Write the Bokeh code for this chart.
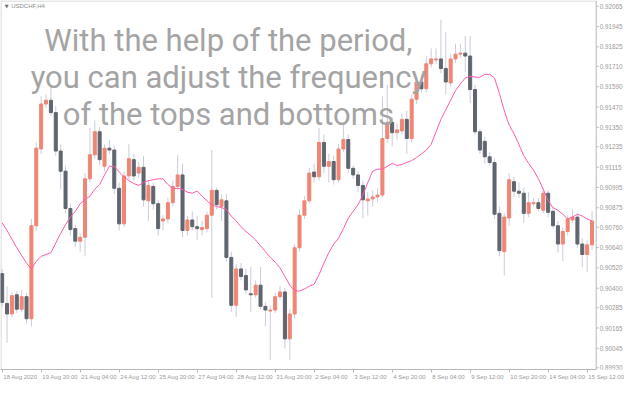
import numpy as np
from bokeh.plotting import figure
from bokeh.models import Range1d, FixedTicker, Label, LinearAxis
from bokeh.core.properties import value
from bokeh.embed import file_html
from bokeh.resources import INLINE

symbol = "USDCHF,H4"
caption = ["With the help of the period,",
           "you can adjust the frequency",
           "of the tops and bottoms"]

opens = [0.90486,0.90310,0.90248,0.90361,0.90276,0.90350,0.90220,0.90769,0.91222,0.91488,
         0.91510,0.91437,0.91210,0.91091,0.90871,0.90752,0.90678,0.90701,0.91046,0.91188,
         0.91324,0.91120,0.91227,0.91216,0.90990,0.90780,0.91063,0.91159,0.91080,0.91114,
         0.90916,0.91001,0.90899,0.90797,0.90809,0.90905,0.91001,0.91069,0.90741,0.90803,
         0.90763,0.90746,0.90752,0.90831,0.90978,0.90882,0.90916,0.90582,0.90299,0.90514,
         0.90475,0.90367,0.90361,0.90418,0.90293,0.90265,0.90271,0.90350,0.90378,0.90101,
         0.90248,0.90639,0.90831,0.90916,0.91086,0.91058,0.91261,0.91120,0.91148,0.91041,
         0.91222,0.91278,0.91108,0.91069,0.91007,0.90916,0.90927,0.90939,0.90950,0.91284,
         0.91380,0.91318,0.91329,0.91397,0.91284,0.91516,0.91618,0.91578,0.91725,0.91748,
         0.91754,0.91697,0.91612,0.91754,0.91782,0.91788,0.91771,0.91573,0.91324,0.91267,
         0.91176,0.91142,0.90842,0.90616,0.90814,0.91029,0.90973,0.90961,0.90842,0.90899,
         0.90905,0.90860,0.90961,0.90854,0.90769,0.90661,0.90735,0.90803,0.90820,0.90661,
         0.90599,0.90656]

highs = [0.90514,0.90412,0.90373,0.90384,0.90390,0.90373,0.90809,0.91261,0.91533,0.91544,
         0.91601,0.91476,0.91250,0.91125,0.90899,0.90775,0.90724,0.91080,0.91346,0.91391,
         0.91352,0.91250,0.91273,0.91239,0.91024,0.91091,0.91250,0.91193,0.91148,0.91182,
         0.91035,0.91024,0.90922,0.90831,0.90933,0.91035,0.91188,0.91137,0.90826,0.90854,
         0.90826,0.90797,0.90854,0.91216,0.90995,0.90956,0.90956,0.90616,0.90542,0.90548,
         0.90514,0.90525,0.90446,0.90525,0.90316,0.90299,0.90373,0.90412,0.90401,0.90276,
         0.90661,0.90865,0.90944,0.91108,0.91137,0.91346,0.91307,0.91193,0.91182,0.91250,
         0.91374,0.91307,0.91125,0.91091,0.91035,0.90967,0.90978,0.90990,0.91533,0.91601,
         0.91408,0.91374,0.91431,0.91448,0.91544,0.91646,0.91658,0.91771,0.91816,0.91816,
         0.91986,0.91912,0.91782,0.91844,0.91844,0.91890,0.91890,0.91601,0.91341,0.91295,
         0.91205,0.91165,0.90882,0.90842,0.91080,0.91058,0.91024,0.90995,0.90967,0.90933,
         0.90933,0.90990,0.90978,0.90882,0.90797,0.90758,0.90831,0.90865,0.90842,0.90695,
         0.90684,0.90854]

lows = [0.90288,0.90078,0.90226,0.90254,0.90260,0.90192,0.90175,0.90741,0.91193,0.91465,
        0.91420,0.91182,0.90984,0.90842,0.90712,0.90644,0.90616,0.90588,0.91024,0.91165,
        0.91125,0.91091,0.91193,0.90956,0.90741,0.90763,0.91041,0.91035,0.91052,0.90882,
        0.90797,0.90865,0.90712,0.90741,0.90786,0.90882,0.90978,0.90701,0.90712,0.90741,
        0.90684,0.90712,0.90729,0.90344,0.90865,0.90797,0.90559,0.90260,0.90231,0.90446,
        0.90367,0.90260,0.90344,0.90276,0.90175,0.89976,0.90254,0.90333,0.90044,0.89976,
        0.90220,0.90616,0.90809,0.90899,0.91024,0.91035,0.91080,0.91024,0.91012,0.91024,
        0.91205,0.91080,0.91046,0.90967,0.90814,0.90831,0.90882,0.90910,0.90933,0.91261,
        0.91239,0.91278,0.91307,0.91193,0.91261,0.91488,0.91556,0.91556,0.91703,0.91725,
        0.91669,0.91544,0.91590,0.91731,0.91759,0.91675,0.91493,0.91307,0.91193,0.91137,
        0.91125,0.90809,0.90588,0.90475,0.90769,0.90939,0.90933,0.90786,0.90820,0.90882,
        0.90854,0.90842,0.90820,0.90752,0.90610,0.90559,0.90712,0.90786,0.90639,0.90525,
        0.90497,0.90627]

closes = [0.90316,0.90248,0.90356,0.90276,0.90350,0.90220,0.90769,0.91227,0.91488,0.91510,
          0.91437,0.91210,0.91091,0.90871,0.90746,0.90678,0.90701,0.91046,0.91188,0.91324,
          0.91159,0.91227,0.91216,0.90990,0.90780,0.91063,0.91165,0.91063,0.91114,0.90922,
          0.91007,0.90899,0.90752,0.90809,0.90905,0.91001,0.91069,0.90741,0.90803,0.90763,
          0.90752,0.90758,0.90831,0.90978,0.90893,0.90922,0.90582,0.90299,0.90514,0.90469,
          0.90390,0.90361,0.90418,0.90293,0.90271,0.90271,0.90350,0.90378,0.90101,0.90248,
          0.90639,0.90831,0.90916,0.91080,0.91058,0.91261,0.91120,0.91148,0.91041,0.91222,
          0.91278,0.91108,0.91069,0.91007,0.90922,0.90927,0.90939,0.90950,0.91284,0.91380,
          0.91318,0.91335,0.91397,0.91284,0.91516,0.91618,0.91578,0.91725,0.91754,0.91754,
          0.91697,0.91618,0.91754,0.91782,0.91788,0.91771,0.91573,0.91324,0.91216,0.91176,
          0.91142,0.90837,0.90622,0.90820,0.91041,0.90973,0.90961,0.90842,0.90905,0.90905,
          0.90871,0.90961,0.90848,0.90769,0.90661,0.90735,0.90809,0.90820,0.90661,0.90599,
          0.90656,0.90797]

ma = [0.90786,0.90741,0.90690,0.90639,0.90593,0.90548,0.90514,0.90559,0.90588,0.90599,
      0.90610,0.90667,0.90724,0.90775,0.90820,0.90854,0.90899,0.90922,0.90944,0.90984,
      0.91012,0.91069,0.91120,0.91120,0.91086,0.91058,0.91035,0.91018,0.91007,0.91024,
      0.91035,0.91041,0.91046,0.91046,0.91012,0.90990,0.90990,0.90984,0.90967,0.90961,
      0.90973,0.90944,0.90916,0.90893,0.90882,0.90876,0.90865,0.90826,0.90797,0.90763,
      0.90735,0.90712,0.90684,0.90650,0.90616,0.90582,0.90554,0.90520,0.90469,0.90418,
      0.90384,0.90384,0.90395,0.90412,0.90424,0.90480,0.90548,0.90610,0.90661,0.90695,
      0.90752,0.90814,0.90854,0.90893,0.90950,0.91024,0.91091,0.91103,0.91103,0.91120,
      0.91137,0.91125,0.91131,0.91142,0.91154,0.91171,0.91193,0.91216,0.91250,0.91324,
      0.91397,0.91454,0.91510,0.91567,0.91607,0.91641,0.91652,0.91646,0.91646,0.91663,
      0.91663,0.91641,0.91550,0.91448,0.91363,0.91312,0.91250,0.91182,0.91137,0.91097,
      0.91046,0.90984,0.90916,0.90876,0.90860,0.90837,0.90809,0.90820,0.90837,0.90826,
      0.90809,0.90797]

time_labels = ["18 Aug 2020", "19 Aug 20:00", "21 Aug 04:00", "24 Aug 12:00",
               "25 Aug 20:00", "27 Aug 04:00", "28 Aug 12:00", "31 Aug 20:00",
               "2 Sep 04:00", "3 Sep 12:00", "4 Sep 20:00", "8 Sep 04:00",
               "9 Sep 12:00", "10 Sep 20:00", "14 Sep 04:00", "15 Sep 12:00"]
time_label_bars = [0, 8, 16, 24, 32, 40, 48, 56, 64, 72, 80, 88, 96, 104, 112, 120]

price_ticks = [0.92065, 0.91945, 0.91825, 0.91710, 0.91590, 0.91470, 0.91350,
               0.91235, 0.91115, 0.90995, 0.90875, 0.90760, 0.90640, 0.90520,
               0.90400, 0.90285, 0.90165, 0.90045, 0.89930]

BULL = "#EF8675"
BEAR = "#5F666F"
WICK = "#CACCDA"
MA_COL = "#FF5AAE"
AXIS = "#B8B8B8"
BORDER = "#D0D0D0"
LABEL = "#9A9A9A"

W, H = 624, 384
BOTTOM = 15
FRAME_H = H - BOTTOM
BAR_PX = 4.875                 # pixels per bar
y0, y1 = 0.89920, 0.92099
x0 = -0.34
x1 = x0 + W / BAR_PX           # frame spans the whole width
AXIS_X = x0 + 595.7 / BAR_PX   # price scale line
px_x = 1.0 / BAR_PX
px_y = (y1 - y0) / FRAME_H

p = figure(width=W, height=H, output_backend="svg", toolbar_location=None,
           x_range=Range1d(x0, x1), y_range=Range1d(y0, y1),
           y_axis_location=None, x_axis_location="below")
p.min_border_left = 0
p.min_border_right = 0
p.min_border_top = 0
p.min_border_bottom = BOTTOM
p.outline_line_color = None
p.xgrid.visible = False
p.ygrid.visible = False
p.background_fill_color = "white"
p.border_fill_color = "white"

# chart window border (left and top)
p.segment([x0 + 0.5 * px_x, x0], [y0, y1 - 0.5 * px_y],
          [x0 + 0.5 * px_x, AXIS_X], [y1, y1 - 0.5 * px_y],
          line_color=BORDER, line_width=1)

idx = np.arange(len(opens))
o = np.array(opens)
c = np.array(closes)
bull = c >= o
bear = ~bull

p.segment(idx, highs, idx, lows, line_color=WICK, line_width=1)
p.vbar(x=idx[bull], width=0.62, top=c[bull], bottom=o[bull],
       fill_color=BULL, line_color=BULL, line_width=1)
p.vbar(x=idx[bear], width=0.62, top=o[bear], bottom=c[bear],
       fill_color=BEAR, line_color=BEAR, line_width=1)
p.line(idx, ma, line_color=MA_COL, line_width=1)

# price scale on the right, drawn inside the frame
n = len(price_ticks)
p.segment([AXIS_X], [y0], [AXIS_X], [y1], line_color=AXIS, line_width=1)
p.segment([AXIS_X] * n, price_ticks, [AXIS_X + 2.5 * px_x] * n, price_ticks,
          line_color=AXIS, line_width=1)
p.text(x=[AXIS_X + 3.5 * px_x] * n, y=price_ticks,
       text=[f"{v:.5f}" for v in price_ticks],
       text_align="left", text_baseline="middle",
       text_font=value("Liberation Sans"), text_font_size=value("6.3px"),
       text_color=LABEL)

# bottom time axis: tick marks
xa = p.xaxis[0]
xa.ticker = FixedTicker(ticks=time_label_bars)
xa.major_label_overrides = {b: "" for b in time_label_bars}
xa.bounds = (x0, AXIS_X)
xa.axis_line_color = AXIS
xa.major_tick_line_color = AXIS
xa.major_tick_in = 0
xa.major_tick_out = 3
xa.minor_tick_line_color = None
xa.major_label_text_font_size = "1px"
xa.major_label_standoff = 0

# second axis carrying the labels, left-aligned to the tick marks
char_w = {ch: 556 for ch in "0123456789ugep"}
char_w.update({" ": 278, ":": 278, "A": 667, "S": 667})
FS = 6.0
label_pos = []
for b, t in zip(time_label_bars, time_labels):
    wpx = sum(char_w.get(ch, 556) for ch in t) * FS / 1000.0
    label_pos.append(round(b + (wpx / 2 + 1.2) * px_x, 3))
la = LinearAxis(ticker=FixedTicker(ticks=label_pos),
                major_label_overrides={lp: t for lp, t in zip(label_pos, time_labels)})
la.axis_line_color = None
la.major_tick_line_color = None
la.minor_tick_line_color = None
la.major_tick_in = 0
la.major_tick_out = 0
la.major_label_standoff = 1
la.major_label_text_font = "Liberation Sans"
la.major_label_text_font_size = "6px"
la.major_label_text_color = LABEL
p.add_layout(la, "below")

# header
p.add_layout(Label(x=0.95, y=y1 - 5 * px_y, text="\u25bc", text_align="center",
                   text_baseline="middle", text_font="DejaVu Sans",
                   text_font_size="5px", text_color="#707070"))
p.add_layout(Label(x=1.85, y=y1 - 5 * px_y, text=symbol, text_align="left",
                   text_baseline="middle", text_font="Liberation Sans",
                   text_font_size="6px", text_color="#8C8C8C"))

# caption overlay
cap_y = [0.91862, 0.91642, 0.91426]
for t, yy in zip(caption, cap_y):
    p.add_layout(Label(x=46.4, y=yy, text=t, text_align="center",
                       text_baseline="alphabetic", text_font="Roboto",
                       text_font_size="31px", text_color="#A4A4A4"))

open("out.html", "w").write(file_html(p, INLINE))
